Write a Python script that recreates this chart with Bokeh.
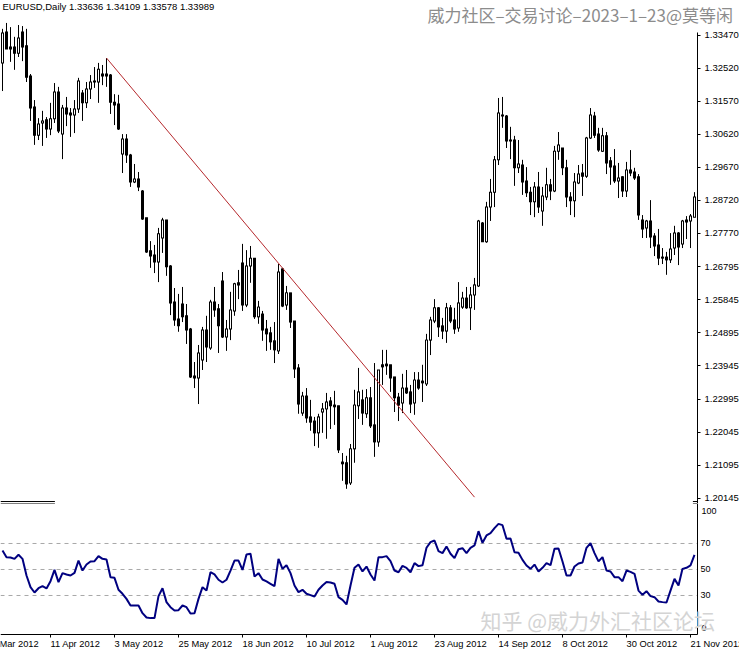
from bokeh.plotting import figure
from bokeh.layouts import column
from bokeh.core.properties import value
from bokeh.models import (ColumnDataSource, FixedTicker, Label, LabelSet, NumeralTickFormatter, Range1d)
from bokeh.embed import file_html
from bokeh.resources import INLINE

opens = [1.3267,1.3356,1.3313,1.3313,1.3295,1.3356,1.3316,1.3229,1.3140,1.3059,
1.3094,1.3103,1.3077,1.3106,1.3183,1.3062,1.3137,1.3123,1.3117,1.3134,
1.3180,1.3152,1.3192,1.3215,1.3212,1.3235,1.3235,1.3232,1.3154,1.3149,
1.3005,1.3048,1.3002,1.2924,1.2933,1.2898,1.2821,1.2726,1.2714,1.2694,
1.2763,1.2815,1.2682,1.2579,1.2530,1.2573,1.2539,1.2501,1.2366,1.2360,
1.2412,1.2498,1.2446,1.2579,1.2559,1.2639,1.2478,1.2501,1.2553,1.2634,
1.2691,1.2570,1.2682,1.2705,1.2536,1.2544,1.2501,1.2490,1.2467,1.2438,
1.2674,1.2570,1.2605,1.2524,1.2389,1.2259,1.2308,1.2248,1.2236,1.2202,
1.2262,1.2271,1.2294,1.2282,1.2280,1.2118,1.2116,1.2058,1.2156,1.2280,
1.2297,1.2257,1.2303,1.2225,1.2176,1.2398,1.2400,1.2398,1.2363,1.2305,
1.2288,1.2331,1.2320,1.2288,1.2354,1.2351,1.2343,1.2469,1.2524,1.2562,
1.2510,1.2495,1.2562,1.2527,1.2504,1.2564,1.2590,1.2562,1.2599,1.2625,
1.2806,1.2752,1.2852,1.2895,1.2988,1.3117,1.3114,1.3045,1.3045,1.2965,
1.2973,1.2927,1.2895,1.2867,1.2910,1.2841,1.2881,1.2916,1.2898,1.3013,
1.3022,1.2965,1.2881,1.2870,1.2921,1.2950,1.2941,1.3051,1.3114,1.3062,
1.3013,1.3057,1.2985,1.2970,1.2927,1.2939,1.2898,1.2959,1.2953,1.2939,
1.2815,1.2792,1.2812,1.2769,1.2743,1.2708,1.2708,1.2700,1.2734,1.2777,
1.2746,1.2815,1.2812,1.2823]
highs = [1.3365,1.3382,1.3370,1.3342,1.3376,1.3373,1.3365,1.3235,1.3160,1.3108,
1.3129,1.3111,1.3152,1.3209,1.3198,1.3146,1.3169,1.3137,1.3160,1.3224,
1.3189,1.3212,1.3232,1.3255,1.3267,1.3261,1.3281,1.3235,1.3177,1.3175,
1.3062,1.3062,1.3005,1.2976,1.2953,1.2901,1.2821,1.2754,1.2743,1.2792,
1.2821,1.2815,1.2685,1.2619,1.2602,1.2622,1.2573,1.2504,1.2406,1.2455,
1.2507,1.2539,1.2585,1.2622,1.2573,1.2665,1.2527,1.2608,1.2634,1.2671,
1.2746,1.2728,1.2740,1.2705,1.2582,1.2553,1.2527,1.2507,1.2521,1.2688,
1.2677,1.2625,1.2605,1.2524,1.2400,1.2320,1.2331,1.2297,1.2248,1.2257,
1.2288,1.2317,1.2305,1.2323,1.2280,1.2144,1.2136,1.2170,1.2326,1.2389,
1.2326,1.2328,1.2334,1.2403,1.2383,1.2441,1.2441,1.2398,1.2363,1.2317,
1.2372,1.2383,1.2340,1.2377,1.2377,1.2398,1.2487,1.2536,1.2587,1.2564,
1.2533,1.2576,1.2570,1.2562,1.2636,1.2608,1.2622,1.2622,1.2648,1.2815,
1.2809,1.2867,1.2933,1.2999,1.3166,1.3169,1.3117,1.3083,1.3057,1.3045,
1.2988,1.2967,1.2910,1.2924,1.2953,1.2910,1.2965,1.2933,1.3028,1.3068,
1.3022,1.2988,1.2895,1.2950,1.2973,1.2976,1.3054,1.3137,1.3126,1.3080,
1.3080,1.3068,1.2996,1.3019,1.2979,1.2941,1.2982,1.3016,1.2965,1.2947,
1.2829,1.2815,1.2872,1.2777,1.2789,1.2734,1.2723,1.2777,1.2798,1.2780,
1.2815,1.2826,1.2832,1.2895]
lows = [1.3186,1.3307,1.3270,1.3247,1.3284,1.3272,1.3212,1.3100,1.3031,1.3045,
1.3028,1.3051,1.3059,1.3094,1.3065,1.2990,1.3085,1.3054,1.3065,1.3123,
1.3100,1.3137,1.3163,1.3195,1.3152,1.3203,1.3198,1.3120,1.3088,1.3074,
1.2950,1.2979,1.2910,1.2921,1.2898,1.2815,1.2720,1.2677,1.2662,1.2636,
1.2720,1.2654,1.2541,1.2510,1.2493,1.2521,1.2458,1.2360,1.2331,1.2285,
1.2383,1.2406,1.2441,1.2536,1.2432,1.2475,1.2438,1.2469,1.2539,1.2587,
1.2553,1.2564,1.2634,1.2530,1.2516,1.2467,1.2438,1.2441,1.2403,1.2429,
1.2564,1.2556,1.2504,1.2360,1.2257,1.2251,1.2231,1.2208,1.2164,1.2159,
1.2202,1.2185,1.2213,1.2225,1.2144,1.2064,1.2041,1.2052,1.2116,1.2242,
1.2225,1.2245,1.2216,1.2133,1.2162,1.2340,1.2369,1.2320,1.2262,1.2236,
1.2259,1.2314,1.2259,1.2254,1.2326,1.2291,1.2337,1.2426,1.2518,1.2478,
1.2472,1.2461,1.2518,1.2487,1.2493,1.2559,1.2559,1.2498,1.2556,1.2622,
1.2752,1.2749,1.2812,1.2852,1.2973,1.3080,1.3022,1.2990,1.2913,1.2950,
1.2887,1.2881,1.2829,1.2823,1.2835,1.2798,1.2872,1.2872,1.2895,1.2988,
1.2944,1.2852,1.2829,1.2823,1.2918,1.2884,1.2936,1.3048,1.3051,1.3011,
1.3011,1.2947,1.2916,1.2921,1.2878,1.2881,1.2881,1.2941,1.2930,1.2815,
1.2763,1.2763,1.2734,1.2711,1.2685,1.2688,1.2657,1.2691,1.2714,1.2685,
1.2734,1.2760,1.2734,1.2823]
closes = [1.3353,1.3307,1.3307,1.3295,1.3339,1.3313,1.3226,1.3137,1.3059,1.3091,
1.3100,1.3077,1.3106,1.3183,1.3071,1.3137,1.3120,1.3117,1.3134,1.3215,
1.3152,1.3192,1.3212,1.3212,1.3249,1.3229,1.3229,1.3154,1.3146,1.3077,
1.3048,1.3002,1.2924,1.2933,1.2910,1.2818,1.2723,1.2711,1.2694,1.2775,
1.2815,1.2680,1.2576,1.2527,1.2510,1.2536,1.2498,1.2363,1.2360,1.2432,
1.2498,1.2449,1.2579,1.2556,1.2510,1.2478,1.2501,1.2556,1.2631,1.2628,
1.2570,1.2682,1.2705,1.2536,1.2564,1.2498,1.2487,1.2464,1.2441,1.2665,
1.2567,1.2605,1.2521,1.2386,1.2285,1.2308,1.2245,1.2233,1.2202,1.2248,
1.2271,1.2291,1.2280,1.2277,1.2153,1.2113,1.2055,1.2156,1.2282,1.2320,
1.2259,1.2303,1.2222,1.2176,1.2383,1.2392,1.2395,1.2360,1.2303,1.2282,
1.2331,1.2317,1.2285,1.2354,1.2331,1.2346,1.2469,1.2527,1.2562,1.2507,
1.2495,1.2562,1.2524,1.2501,1.2576,1.2590,1.2562,1.2599,1.2628,1.2812,
1.2752,1.2852,1.2895,1.2988,1.3123,1.3114,1.3042,1.3042,1.2965,1.2976,
1.2924,1.2893,1.2867,1.2910,1.2852,1.2884,1.2916,1.2898,1.3013,1.3031,
1.2965,1.2881,1.2870,1.2924,1.2947,1.2941,1.3051,1.3117,1.3059,1.3016,
1.3057,1.2979,1.2967,1.2927,1.2936,1.2898,1.2959,1.2950,1.2936,1.2829,
1.2789,1.2812,1.2766,1.2740,1.2705,1.2705,1.2700,1.2731,1.2777,1.2737,
1.2812,1.2809,1.2826,1.2881]

rsi = [64.6,59.5,59.2,58.2,61.3,58.2,45.4,36.4,32.3,35.6,
37.2,35.4,41.0,49.7,40.3,47.2,46.2,45.4,47.4,56.9,
49.2,53.8,56.2,56.4,60.3,58.2,57.7,44.1,43.6,34.4,
31.3,27.4,22.3,22.3,22.3,16.4,13.1,12.6,12.6,29.5,
35.6,24.9,21.0,18.5,18.7,22.3,21.0,16.2,16.4,27.4,
36.4,33.8,47.9,46.2,42.1,40.0,42.1,49.2,56.9,56.9,
49.7,61.5,62.1,44.6,47.2,42.3,40.8,39.0,37.2,58.2,
50.5,53.3,47.2,37.7,32.6,34.4,31.3,30.3,29.2,34.4,
37.7,40.3,40.0,39.0,28.7,26.7,23.1,37.7,51.3,53.8,
48.5,52.3,46.2,41.5,59.5,59.5,60.3,56.4,49.2,47.9,
52.8,51.3,47.9,54.9,52.6,53.3,66.7,71.0,72.3,64.1,
62.6,67.7,62.1,58.7,65.6,66.4,62.6,66.7,68.5,79.5,
70.5,76.2,77.9,81.8,85.1,84.1,73.6,73.8,63.3,62.8,
57.4,53.1,50.5,53.8,48.5,51.3,54.9,53.3,65.9,66.2,
56.2,45.4,45.4,52.3,54.6,55.4,66.7,70.3,62.6,56.2,
59.5,49.2,48.5,44.1,44.1,41.0,49.2,48.2,46.7,33.8,
30.5,33.3,29.5,28.7,25.4,24.9,24.6,33.8,42.8,37.7,
50.5,51.3,53.1,61.3]

price_ticks = [1.33470,1.32520,1.31570,1.30620,1.29670,1.28720,1.27770,1.26795,
               1.25845,1.24895,1.23945,1.22995,1.22045,1.21095,1.20145]
rsi_ticks = [30, 50, 70]
rsi_levels = [30, 50, 70]
date_ticks = [-4,12,28,44,60,76,92,108,124,140,156,172]
date_labels = ["21 Mar 2012","11 Apr 2012","3 May 2012","25 May 2012","18 Jun 2012","10 Jul 2012",
               "1 Aug 2012","23 Aug 2012","14 Sep 2012","8 Oct 2012","30 Oct 2012","21 Nov 2012"]
trend_idx = [26, 118]
trend_price = [1.3281, 1.2017]
header_text = "EURUSD,Daily   1.33636 1.34109 1.33578 1.33989"
mark_top = "威力社区–交易讨论–2023–1–23@莫等闲"
mark_bottom = "知乎 @威力外汇社区论坛"

FONT = "Liberation Sans"
X0, X1, AXIS_X = -0.5, 184.25, 173.75
P_LO, P_HI = 1.19987, 1.34466
R_LO, R_HI = -12.31, 100.77
HALF_PX = (P_HI - P_LO) / 503 / 2

idx = list(range(len(opens)))
tops = [max(o, c) for o, c in zip(opens, closes)]
bots = [min(o, c) for o, c in zip(opens, closes)]
src = ColumnDataSource(dict(x=idx, high=highs, low=lows,
                            top=[t + HALF_PX for t in tops], bottom=[b - HALF_PX for b in bots]))
hollow = [i for i in idx if closes[i] >= opens[i] and tops[i] - bots[i] > 2 * HALF_PX]
hsrc = ColumnDataSource(dict(x=hollow, top=[tops[i] - HALF_PX for i in hollow],
                             bottom=[bots[i] + HALF_PX for i in hollow]))

xr = Range1d(X0, X1)
top = figure(width=739, height=503, frame_width=739, frame_height=503, x_range=xr,
             y_range=Range1d(P_LO, P_HI), y_axis_location="right",
             output_backend="svg", toolbar_location=None,
             min_border_left=0, min_border_right=0, min_border_top=0, min_border_bottom=0)
top.outline_line_color = None
top.grid.visible = False
top.xaxis.visible = False
yax = top.yaxis[0]
yax.fixed_location = AXIS_X
yax.ticker = FixedTicker(ticks=price_ticks)
yax.formatter = NumeralTickFormatter(format="0.00000")
yax.bounds = (P_LO, 1.3355)
yax.axis_line_color = "black"
yax.major_tick_line_color = "black"
yax.major_tick_in = 0
yax.major_tick_out = 3
yax.minor_tick_line_color = None
yax.major_label_standoff = 4
yax.major_label_text_font = FONT
yax.major_label_text_font_size = "9.5px"
yax.major_label_text_color = "black"

top.segment(x0="x", x1="x", y0="high", y1="low", source=src, line_color="black", line_width=1)
top.vbar(x="x", width=0.75, top="top", bottom="bottom", source=src, fill_color="black", line_color=None)
top.vbar(x="x", width=0.25, top="top", bottom="bottom", source=hsrc, fill_color="white", line_color=None)
top.line(trend_idx, trend_price, line_color="#b5282c", line_width=1)
top.segment(x0=[X0, 172.6], x1=[13.1, AXIS_X], y0=[1.20044, 1.20044], y1=[1.20044, 1.20044],
            line_color="black", line_width=1)
top.add_layout(Label(x=2, y=497, x_units="screen", y_units="screen", text=header_text,
                     text_font=FONT, text_font_size="9.5px", text_color="black", text_baseline="middle"))
top.add_layout(Label(x=427, y=489, x_units="screen", y_units="screen", text=mark_top,
                     text_font="Noto Sans CJK SC", text_font_size="17px", text_color="#8c8c8c",
                     text_baseline="middle"))

bot = figure(width=739, height=147, frame_width=739, frame_height=147, x_range=xr,
             y_range=Range1d(R_LO, R_HI), y_axis_location="right",
             output_backend="svg", toolbar_location=None,
             min_border_left=0, min_border_right=0, min_border_top=0, min_border_bottom=0)
bot.outline_line_color = None
bot.grid.visible = False
ra = bot.yaxis[0]
ra.fixed_location = AXIS_X
ra.bounds = (0, R_HI)
ra.ticker = FixedTicker(ticks=rsi_ticks)
ra.axis_line_color = "black"
ra.major_tick_line_color = None
ra.minor_tick_line_color = None
ra.major_tick_in = 0
ra.major_tick_out = 0
ra.major_label_standoff = 3
ra.major_label_text_font = FONT
ra.major_label_text_font_size = "9px"
ra.major_label_text_color = "black"
xa = bot.xaxis[0]
xa.fixed_location = 0
xa.bounds = (X0, AXIS_X)
xa.ticker = FixedTicker(ticks=date_ticks)
xa.axis_line_color = "black"
xa.major_tick_line_color = "black"
xa.major_tick_in = 0
xa.major_tick_out = 3
xa.minor_tick_line_color = None
xa.major_label_overrides = {t: "" for t in date_ticks}
xa.major_label_standoff = 0

for lv in rsi_levels:
    bot.line([X0, AXIS_X], [lv, lv], line_color="#a8a8a8", line_width=1, line_dash=[4, 4])
bot.line(idx, rsi, line_color="#000080", line_width=2)
bot.segment(x0=[X0, 172.6], x1=[13.1, AXIS_X], y0=[R_HI, R_HI], y1=[R_HI, R_HI],
            line_color="black", line_width=1)

dsrc = ColumnDataSource(dict(x=date_ticks, y=[-7] * len(date_ticks), t=date_labels))
bot.add_layout(LabelSet(x="x", y="y", text="t", source=dsrc, text_font=value(FONT),
                        text_font_size=value("9.3px"),
                        text_color="black", text_baseline="middle", text_align="left"))
bot.add_layout(Label(x=701, y=140, x_units="screen", y_units="screen", text="100",
                     text_font=FONT, text_font_size="9px", text_color="black", text_baseline="middle"))
bot.add_layout(Label(x=701, y=23, x_units="screen", y_units="screen", text="0",
                     text_font=FONT, text_font_size="9px", text_color="black", text_baseline="middle"))
bot.add_layout(Label(x=480, y=31, x_units="screen", y_units="screen", text=mark_bottom,
                     text_font="Noto Sans CJK SC", text_font_size="21px", text_color="#d4d4d4",
                     text_baseline="middle"))

page = column(top, bot, spacing=0, margin=(0, 0, 0, 0))
open("out.html", "w").write(file_html(page, INLINE))
